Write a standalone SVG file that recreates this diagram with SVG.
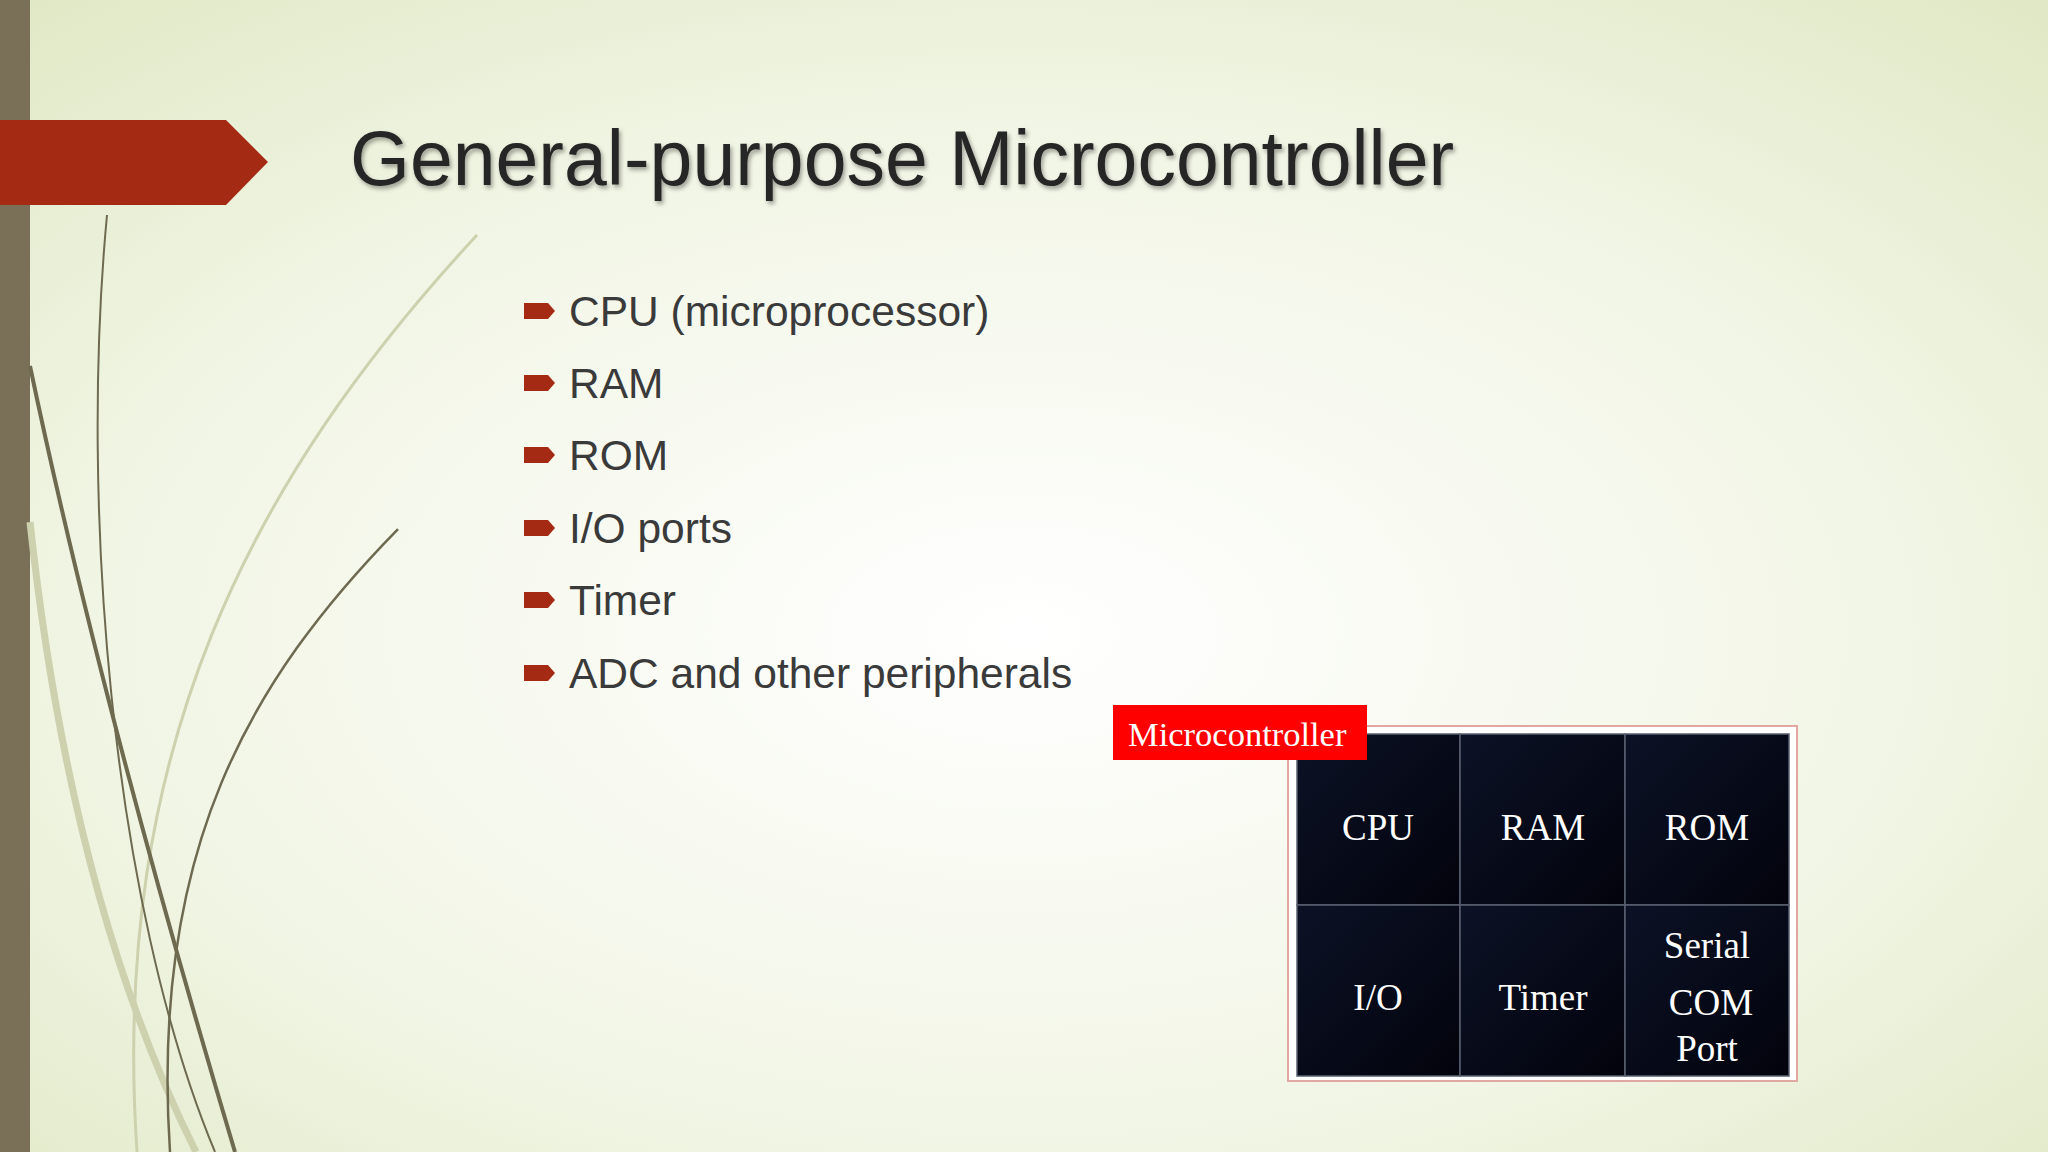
<svg xmlns="http://www.w3.org/2000/svg" width="2048" height="1152" viewBox="0 0 2048 1152">
<defs>
<radialGradient id="bg" cx="0.5" cy="0.55" r="0.75">
<stop offset="0" stop-color="#ffffff"/><stop offset="0.6" stop-color="#f1f5e4"/><stop offset="1" stop-color="#dfe8c4"/>
</radialGradient>
<linearGradient id="cell" x1="0" y1="0" x2="1" y2="1"><stop offset="0" stop-color="#0c1226"/><stop offset="1" stop-color="#02030c"/></linearGradient>
<filter id="sh" x="-5%" y="-20%" width="110%" height="140%"><feDropShadow dx="2" dy="3" stdDeviation="2" flood-color="#000" flood-opacity="0.35"/></filter>
</defs>
<style>
.b{font-family:"Liberation Sans",Arial,sans-serif;font-size:42.5px;fill:#3a3a3a}
.c{font-family:"Liberation Serif","Times New Roman",serif;font-size:37px;fill:#fff;text-anchor:middle}
.m{fill:#a52a14}
.cell{fill:url(#cell);stroke:#5a6070;stroke-width:1.5}
.crv{fill:none;stroke:#6e6a50}
.lt{fill:none;stroke:#cdd1ae}
</style>
<rect width="2048" height="1152" fill="url(#bg)"/>
<rect x="0" y="0" width="30" height="1152" fill="#7a7058"/>
<g id="curves">
<path class="lt" stroke-width="3" d="M477,235 C250,480 110,750 137,1152"/>
<path class="lt" stroke-width="7" d="M30,522 C60,800 120,1000 196,1152"/>
<path class="crv" stroke-width="4" d="M30,366 Q100,700 235,1152"/>
<path class="crv" stroke-width="2" d="M107,215 C80,500 110,900 215,1152"/>
<path class="crv" stroke-width="2.5" d="M398,529 C250,680 150,850 170,1152"/>
</g>
<polygon points="0,120 226,120 268,162 226,205 0,205" fill="#a52a14"/>
<text x="350" y="185" font-family="Liberation Sans,Arial,sans-serif" font-size="77" fill="#262626" filter="url(#sh)">General-purpose Microcontroller</text>
<g id="bullets">
<path class="m" d="M524,303 h24 l7,8 l-7,8 h-24z"/><text class="b" x="569" y="326">CPU (microprocessor)</text>
<path class="m" d="M524,375 h24 l7,8 l-7,8 h-24z"/><text class="b" x="569" y="398">RAM</text>
<path class="m" d="M524,447 h24 l7,8 l-7,8 h-24z"/><text class="b" x="569" y="470">ROM</text>
<path class="m" d="M524,520 h24 l7,8 l-7,8 h-24z"/><text class="b" x="569" y="543">I/O ports</text>
<path class="m" d="M524,592 h24 l7,8 l-7,8 h-24z"/><text class="b" x="569" y="615">Timer</text>
<path class="m" d="M524,665 h24 l7,8 l-7,8 h-24z"/><text class="b" x="569" y="688">ADC and other peripherals</text>
</g>
<rect x="1288" y="726" width="509" height="355" fill="#fff" stroke="#e0a8a0" stroke-width="2"/>
<g id="cpu"><rect class="cell" x="1297" y="734" width="163" height="171"/><text class="c" x="1378" y="840">CPU</text></g>
<g id="ram"><rect class="cell" x="1460" y="734" width="165" height="171"/><text class="c" x="1543" y="840">RAM</text></g>
<g id="rom"><rect class="cell" x="1625" y="734" width="164" height="171"/><text class="c" x="1707" y="840">ROM</text></g>
<g id="io"><rect class="cell" x="1297" y="905" width="163" height="171"/><text class="c" x="1378" y="1010">I/O</text></g>
<g id="timer"><rect class="cell" x="1460" y="905" width="165" height="171"/><text class="c" x="1543" y="1010">Timer</text></g>
<g id="serial"><rect class="cell" x="1625" y="905" width="164" height="171"/><text class="c" x="1707" y="958">Serial</text><text class="c" x="1711" y="1015">COM</text><text class="c" x="1707" y="1061">Port</text></g>
<g id="label"><rect x="1113" y="705" width="254" height="55" fill="#ff0000"/><text x="1128" y="746" font-family="Liberation Serif,serif" font-size="34.5" fill="#fff">Microcontroller</text></g>
<g id="connectors"/>
</svg>
